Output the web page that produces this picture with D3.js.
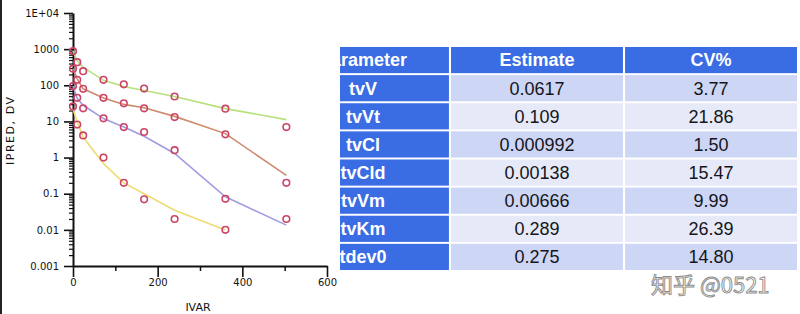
<!DOCTYPE html>
<html>
<head>
<meta charset="utf-8">
<script src="https://cdn.jsdelivr.net/npm/d3@7"></script>
<style>
  body { margin: 0; background: #fff; }
  svg { display: block; }
</style>
</head>
<body>
<div id="chart"></div>
<script>
// Time points (IVAR)
const times = [0, 10, 24, 72, 120, 168, 240, 360, 504];

// Observed DV per dose group (red circles)
const obsGreen  = [880, 437, 246, 142, 106, 81, 49, 22.6, 7.0];
const obsOrange = [288, 142, 80, 45, 31.6, 23, 13.2, 4.4, 0.2];
const obsPurple = [95, 45, 23, 12.2, 7, 5.1, 1.6, 0.072, 0.02];
const obsYellow = [26, 8.2, 4.1, 1.0, 0.2, 0.07, 0.02, 0.01];

// Individual predictions (lines)
const predGreen  = [900, 466, 318, 137, 93, 72, 49, 22.6, 11.2];
const predOrange = [290, 150, 80, 44.5, 29.6, 24, 13.8, 4.6, 0.32];
const predPurple = [95, 43, 28, 12, 7, 3.9, 1.3, 0.082, 0.0135];
const predYellow = [22, 9.6, 3.7, 0.68, 0.2, 0.1, 0.035, 0.0099];

const lineColors = ["#b8e07c", "#cc8c6c", "#a09ce0", "#eedc72"];

// Y axis decades and labels
const yDecades = [0.001, 0.01, 0.1, 1, 10, 100, 1000, 10000];
const yLabels = ["0.001", "0.01", "0.1", "1", "10", "100", "1000", "1E+04"];
const xMajor = [0, 200, 400, 600];
const xMinor = [100, 300, 500];

// Parameter table
const headers = ["Parameter", "Estimate", "CV%"];
const paramNames = ["tvV", "tvVt", "tvCl", "tvCld", "tvVm", "tvKm", "tdev0"];
const estimates = ["0.0617", "0.109", "0.000992", "0.00138", "0.00666", "0.289", "0.275"];
const cvs = ["3.77", "21.86", "1.50", "15.47", "9.99", "26.39", "14.80"];

const W = 800, H = 314;
const svg = d3.select("#chart").append("svg")
    .attr("width", W)
    .attr("height", H);

// dark strip on the left edge
svg.append("rect").attr("x", 0).attr("y", 0).attr("width", 2).attr("height", H).attr("fill", "#222");

// ---------- plot ----------
const x = d3.scaleLinear().domain([0, 600]).range([73, 327]);
const y = d3.scaleLog().domain([0.001, 10000]).range([266, 13]);

const minorY = [];
yDecades.slice(0, -1).forEach(d => {
    for (let k = 2; k <= 9; k++) minorY.push(d * k);
});

const tickFont = "DejaVu Sans, Verdana, sans-serif";

// minor y ticks
svg.append("g")
    .attr("transform", "translate(" + x(0) + ",0)")
    .call(d3.axisLeft(y).tickValues(minorY).tickSize(4).tickFormat(""))
    .call(g => g.select(".domain").remove())
    .selectAll("line").attr("stroke", "#111").attr("stroke-width", 1.2);

// major y axis
svg.append("g")
    .attr("transform", "translate(" + x(0) + ",0)")
    .call(d3.axisLeft(y).tickValues(yDecades).tickSize(9).tickSizeOuter(0).tickPadding(5)
        .tickFormat((d, i) => yLabels[i]))
    .call(g => g.select(".domain").attr("stroke", "#111").attr("stroke-width", 2))
    .call(g => g.selectAll(".tick line").attr("stroke", "#111").attr("stroke-width", 1.6))
    .call(g => g.selectAll(".tick text")
        .style("font-family", tickFont).style("font-size", "10px").attr("fill", "#111"));

// minor x ticks
svg.append("g")
    .attr("transform", "translate(0," + y(0.001) + ")")
    .call(d3.axisBottom(x).tickValues(xMinor).tickSize(5).tickFormat(""))
    .call(g => g.select(".domain").remove())
    .selectAll("line").attr("stroke", "#111").attr("stroke-width", 1.5);

// major x axis
svg.append("g")
    .attr("transform", "translate(0," + y(0.001) + ")")
    .call(d3.axisBottom(x).tickValues(xMajor).tickSize(11).tickSizeOuter(0).tickPadding(2))
    .call(g => g.select(".domain").attr("stroke", "#111").attr("stroke-width", 2))
    .call(g => g.selectAll(".tick line").attr("stroke", "#111").attr("stroke-width", 1.6))
    .call(g => g.selectAll(".tick text")
        .style("font-family", tickFont).style("font-size", "10px").attr("fill", "#111"));

// axis titles
svg.append("text")
    .attr("x", 198).attr("y", 311)
    .attr("text-anchor", "middle")
    .style("font-family", tickFont).style("font-size", "11px").attr("fill", "#111")
    .text("IVAR");

svg.append("text")
    .attr("transform", "translate(14,131) rotate(-90)")
    .attr("text-anchor", "middle")
    .attr("textLength", 68)
    .style("font-family", tickFont).style("font-size", "11px").attr("fill", "#111")
    .text("IPRED, DV");

// prediction lines
const preds = [predGreen, predOrange, predPurple, predYellow];
const line = d3.line()
    .x(d => x(d[0]))
    .y(d => y(d[1]));

preds.forEach((p, i) => {
    svg.append("path")
        .datum(p.map((v, j) => [times[j], v]))
        .attr("fill", "none")
        .attr("stroke", lineColors[i])
        .attr("stroke-width", 1.6)
        .attr("d", line);
});

// observed points
const obs = [obsGreen, obsOrange, obsPurple, obsYellow];
const points = [];
obs.forEach(o => o.forEach((v, j) => points.push([times[j], v])));

svg.selectAll(".obs")
    .data(points)
    .enter().append("circle")
    .attr("class", "obs")
    .attr("cx", d => x(d[0]))
    .attr("cy", d => y(d[1]))
    .attr("r", 3.3)
    .attr("fill", "none")
    .attr("stroke", "#cc4466")
    .attr("stroke-width", 1.6);

// ---------- table ----------
const tableClip = svg.append("defs").append("clipPath").attr("id", "tclip");
tableClip.append("rect").attr("x", 340).attr("y", 0).attr("width", 460).attr("height", H);

const table = svg.append("g").attr("clip-path", "url(#tclip)");

const colX = d3.scaleBand().domain([0, 1, 2]).range([277, 797]).paddingInner(0.012);
const rowY = d3.scaleBand().domain(d3.range(paramNames.length + 1)).range([47, 270]).paddingInner(0.07);

const blue = "#3a6ce4";
const rowFill = ["#cdd6f4", "#e6eaf8"];
const cellFont = "Liberation Sans, Arial, sans-serif";

// header row
table.selectAll(".hcell")
    .data(headers)
    .enter().append("rect")
    .attr("class", "hcell")
    .attr("x", (d, i) => colX(i))
    .attr("y", rowY(0))
    .attr("width", colX.bandwidth())
    .attr("height", rowY.bandwidth())
    .attr("fill", blue);

table.selectAll(".htext")
    .data(headers)
    .enter().append("text")
    .attr("class", "htext")
    .attr("x", (d, i) => colX(i) + colX.bandwidth() / 2)
    .attr("y", rowY(0) + rowY.bandwidth() / 2 + 6)
    .attr("text-anchor", "middle")
    .style("font-family", cellFont).style("font-size", "18px").style("font-weight", "bold")
    .attr("fill", "#fff")
    .text(d => d);

// body rows
const rows = paramNames.map((n, i) => [n, estimates[i], cvs[i]]);

rows.forEach((r, i) => {
    const ry = rowY(i + 1);
    r.forEach((v, c) => {
        table.append("rect")
            .attr("x", colX(c))
            .attr("y", ry)
            .attr("width", colX.bandwidth())
            .attr("height", rowY.bandwidth())
            .attr("fill", c === 0 ? blue : rowFill[i % 2]);
        table.append("text")
            .attr("x", colX(c) + colX.bandwidth() / 2)
            .attr("y", ry + rowY.bandwidth() / 2 + 6.5)
            .attr("text-anchor", "middle")
            .style("font-family", cellFont).style("font-size", "18px")
            .style("font-weight", c === 0 ? "bold" : "normal")
            .attr("fill", c === 0 ? "#fff" : "#151520")
            .text(v);
    });
});

// zhihu watermark
svg.append("text")
    .attr("x", 651).attr("y", 293)
    .style("font-family", "Noto Sans CJK SC, sans-serif").style("font-size", "22px")
    .attr("fill", "#fff")
    .attr("stroke", "#8a8a8a")
    .attr("stroke-width", 0.9)
    .text("知乎 @0521");
</script>
</body>
</html>
